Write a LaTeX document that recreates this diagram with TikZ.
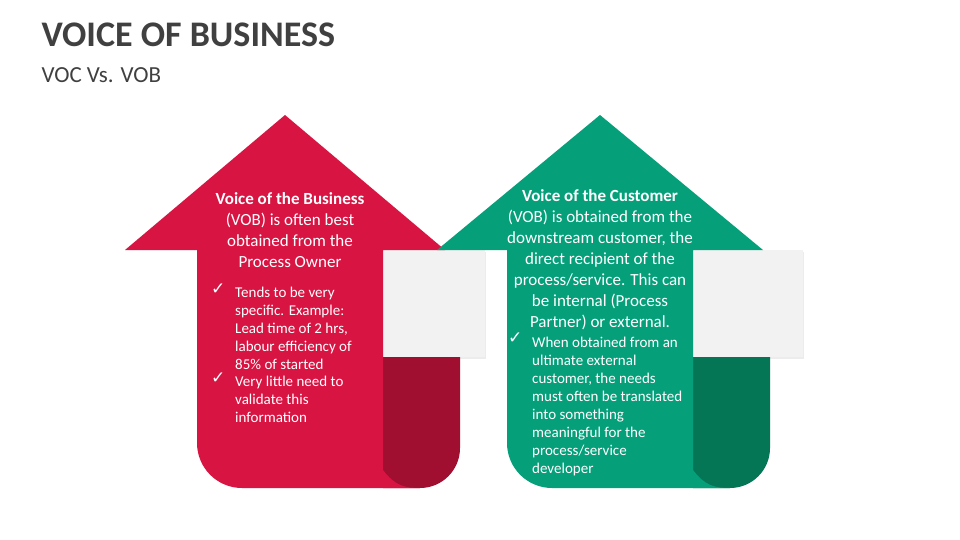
\documentclass[tikz,border=0pt]{standalone}
\usepackage{fontspec}
\setmainfont{Carlito}
\usetikzlibrary{shadows}
\definecolor{vred}{HTML}{D81442}
\definecolor{vdred}{HTML}{A00E30}
\definecolor{vgreen}{HTML}{05A07A}
\definecolor{vdgreen}{HTML}{047656}
\definecolor{band}{HTML}{F2F2F2}
\definecolor{ttl}{HTML}{404040}
\newfontfamily\dejavu{DejaVu Sans}
\begin{document}
\begin{tikzpicture}[x=1pt,y=-1pt,
  txt/.style={text=white,align=center,font=\fontsize{17}{21}\selectfont,inner sep=0},
  blt/.style={text=white,align=left,font=\fontsize{15}{18}\selectfont,inner sep=0,anchor=north west},
  chk/.style={text=white,font=\dejavu\fontsize{17}{18}\selectfont,inner sep=0,anchor=north west}]
\useasboundingbox (0,0) rectangle (960,540);
\fill[white] (0,0) rectangle (960,540);
\node[anchor=west,text=ttl,font=\fontsize{36}{40}\selectfont\bfseries] (t) at (38,35) {VOICE OF BUSINESS};
\node[anchor=west,text=ttl,font=\fontsize{23}{26}\selectfont] (s) at (38,75) {VOC Vs. VOB};
% red arrow
\fill[band,drop shadow={opacity=0.15,shadow xshift=1pt,shadow yshift=-2pt}] (383,250) rectangle (485,357);
\fill[vdred] (383,357) -- (460,357) -- (460,448) arc[start angle=0,end angle=90,radius=40] -- (383,488) -- cycle;
\fill[vred] (285,115) -- (445,250) -- (383,250) -- (383,470) .. controls (395,486) and (405,488) .. (420,488) -- (242,488) arc[start angle=90,end angle=180,radius=45] -- (197,250) -- (125,250) -- cycle;
% green arrow
\fill[band,drop shadow={opacity=0.15,shadow xshift=1pt,shadow yshift=-2pt}] (693,250) rectangle (803,357);
\fill[vdgreen] (693,357) -- (770,357) -- (770,448) arc[start angle=0,end angle=90,radius=40] -- (693,488) -- cycle;
\fill[vgreen] (600,115) -- (763,250) -- (693,250) -- (693,470) .. controls (705,486) and (715,488) .. (730,488) -- (552,488) arc[start angle=90,end angle=180,radius=45] -- (507,250) -- (437,250) -- cycle;
% texts
\node[txt,anchor=north] (rh) at (290,192) {\textbf{Voice of the Business}\\(VOB) is often best\\obtained from the\\Process Owner};
\node[chk] (rb1) at (211,284) {✓};
\node[blt] (rt1) at (235,287) {Tends to be very\\specific. Example:\\Lead time of 2 hrs,\\labour efficiency of\\85\% of started};
\node[chk] (rb2) at (211,373) {✓};
\node[blt] (rt2) at (235,376) {Very little need to\\validate this\\information};
\node[txt,anchor=north] (gh) at (600,189) {\textbf{Voice of the Customer}\\(VOB) is obtained from the\\downstream customer, the\\direct recipient of the\\process/service. This can\\be internal (Process\\Partner) or external.};
\node[chk] (gb1) at (508,333) {✓};
\node[blt] (gt1) at (532,337) {When obtained from an\\ultimate external\\customer, the needs\\must often be translated\\into something\\meaningful for the\\process/service\\developer};
\end{tikzpicture}
\end{document}
